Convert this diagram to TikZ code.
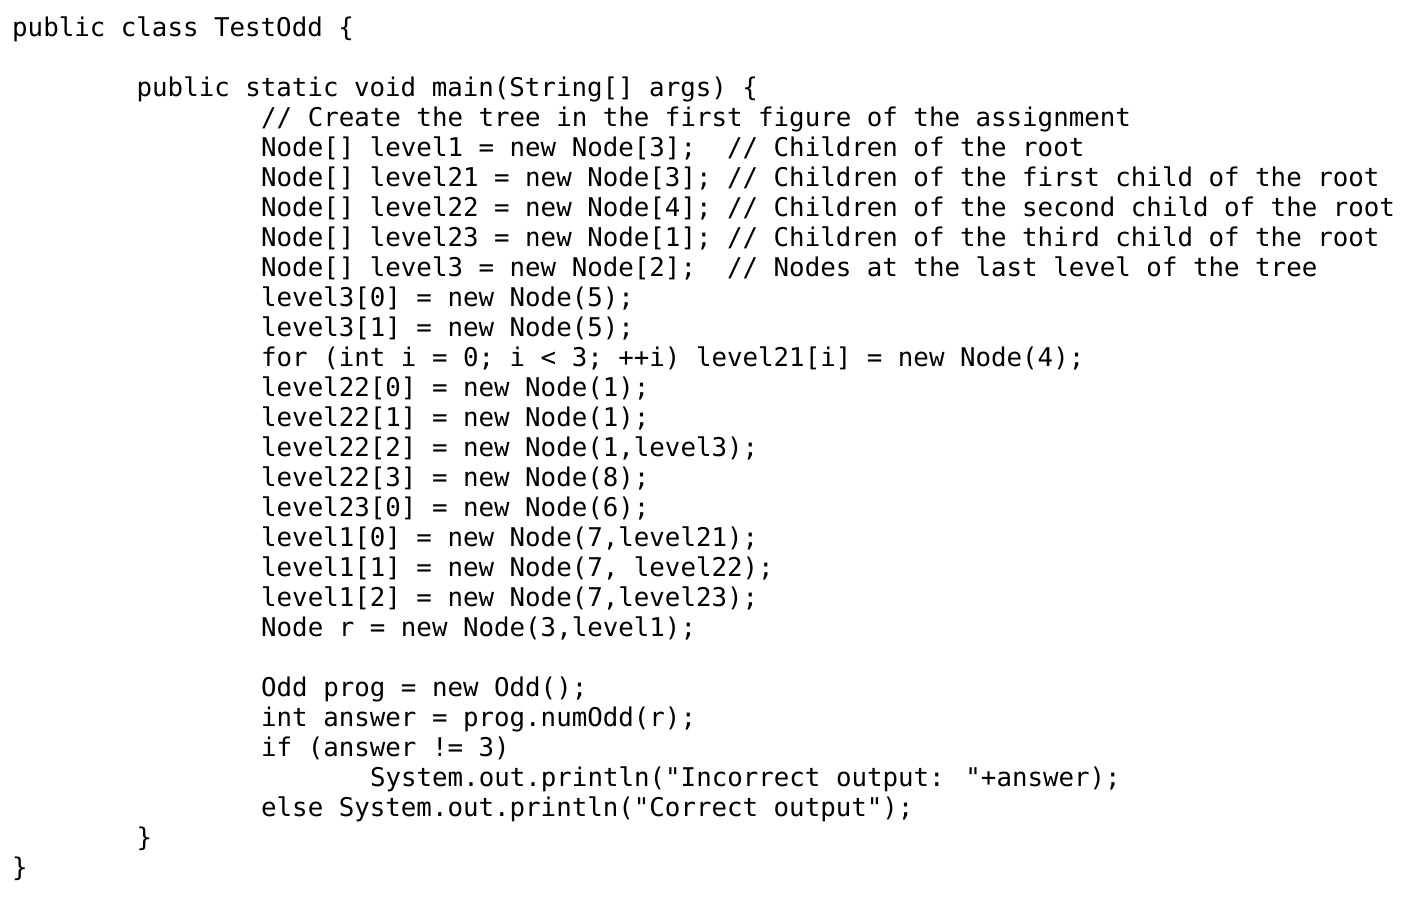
\documentclass[tikz,border=0pt]{standalone}
\usepackage{fontspec}
\newfontfamily\codefont{DejaVu Sans Mono}
\begin{document}
\begin{tikzpicture}[x=1pt,y=1pt,
  codeline/.style={anchor=base west,inner sep=0pt,font=\codefont\fontsize{25.8}{30}\selectfont}]
\useasboundingbox[fill=white] (0,0) rectangle (1420,-898);
\def\cw{15.56}
\node[codeline] (l0) at (12,-36) {public class TestOdd \{};
\node[codeline] (l2) at (12+8*\cw,-96) {public static void main(String[] args) \{};
\node[codeline] (l3) at (12+16*\cw,-126) {// Create the tree in the first figure of the assignment};
\node[codeline] (l4) at (12+16*\cw,-156) {Node[] level1 = new Node[3];~ // Children of the root};
\node[codeline] (l5) at (12+16*\cw,-186) {Node[] level21 = new Node[3]; // Children of the first child of the root};
\node[codeline] (l6) at (12+16*\cw,-216) {Node[] level22 = new Node[4]; // Children of the second child of the root};
\node[codeline] (l7) at (12+16*\cw,-246) {Node[] level23 = new Node[1]; // Children of the third child of the root};
\node[codeline] (l8) at (12+16*\cw,-276) {Node[] level3 = new Node[2];~ // Nodes at the last level of the tree};
\node[codeline] (l9) at (12+16*\cw,-306) {level3[0] = new Node(5);};
\node[codeline] (l10) at (12+16*\cw,-336) {level3[1] = new Node(5);};
\node[codeline] (l11) at (12+16*\cw,-366) {for (int i = 0; i < 3; ++i) level21[i] = new Node(4);};
\node[codeline] (l12) at (12+16*\cw,-396) {level22[0] = new Node(1);};
\node[codeline] (l13) at (12+16*\cw,-426) {level22[1] = new Node(1);};
\node[codeline] (l14) at (12+16*\cw,-456) {level22[2] = new Node(1,level3);};
\node[codeline] (l15) at (12+16*\cw,-486) {level22[3] = new Node(8);};
\node[codeline] (l16) at (12+16*\cw,-516) {level23[0] = new Node(6);};
\node[codeline] (l17) at (12+16*\cw,-546) {level1[0] = new Node(7,level21);};
\node[codeline] (l18) at (12+16*\cw,-576) {level1[1] = new Node(7, level22);};
\node[codeline] (l19) at (12+16*\cw,-606) {level1[2] = new Node(7,level23);};
\node[codeline] (l20) at (12+16*\cw,-636) {Node r = new Node(3,level1);};
\node[codeline] (l22) at (12+16*\cw,-696) {Odd prog = new Odd();};
\node[codeline] (l23) at (12+16*\cw,-726) {int answer = prog.numOdd(r);};
\node[codeline] (l24) at (12+16*\cw,-756) {if (answer != 3)};
\node[codeline] (l25) at (12+23*\cw,-786) {System.out.println("Incorrect output: "+answer);};
\node[codeline] (l26) at (12+16*\cw,-816) {else System.out.println("Correct output");};
\node[codeline] (l27) at (12+8*\cw,-846) {\}};
\node[codeline] (l28) at (12,-876) {\}};
\end{tikzpicture}
\end{document}
